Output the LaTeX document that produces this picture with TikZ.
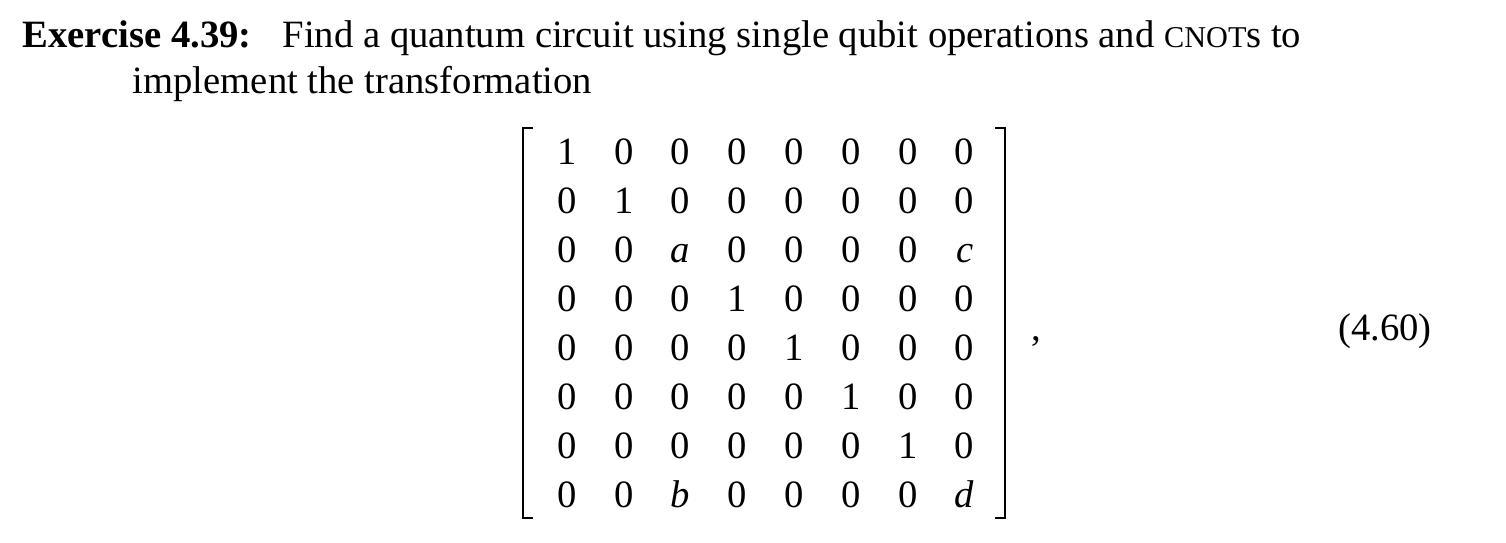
\documentclass[tikz,border=0pt]{standalone}
\usepackage{fontspec}
\setmainfont{Liberation Serif}
\begin{document}
\begin{tikzpicture}[x=0.1mm,y=-0.1mm,
  txt/.style={inner sep=0pt,anchor=base west,font=\fontsize{11}{13}\selectfont},
  ent/.style={inner sep=0pt,anchor=base,font=\fontsize{11}{13}\selectfont},
  brk/.style={line width=0.7pt}]
\useasboundingbox (0,0) rectangle (1506,542);
\node[txt] (l1) at (22,47) {\textbf{Exercise 4.39:}\hspace{0.8em}Find a quantum circuit using single qubit operations and {\fontsize{8.6}{10}\selectfont CNOT}s to};
\node[txt] (l2) at (132,93) {implement the transformation};
\def\M{{{"1","0","0","0","0","0","0","0"},{"0","1","0","0","0","0","0","0"},{"0","0","\textit{a}","0","0","0","0","\textit{c}"},{"0","0","0","1","0","0","0","0"},{"0","0","0","0","1","0","0","0"},{"0","0","0","0","0","1","0","0"},{"0","0","0","0","0","0","1","0"},{"0","0","\textit{b}","0","0","0","0","\textit{d}"}}}
\foreach \r in {0,...,7}{
  \foreach \c in {0,...,7}{
    \pgfmathsetmacro\e{\M[\r][\c]}
    \node[ent] (m\r\c) at ({567+56.8*\c},{164+49*\r}) {\e};
  }
}
\draw[brk] (533,128) -- (523,128) -- (523,518) -- (533,518);
\draw[brk] (995,128) -- (1005,128) -- (1005,518) -- (995,518);
\node[ent] (comma) at (1036,340) {,};
\node[ent] (eq) at (1385,340) {(4.60)};
\end{tikzpicture}
\end{document}
